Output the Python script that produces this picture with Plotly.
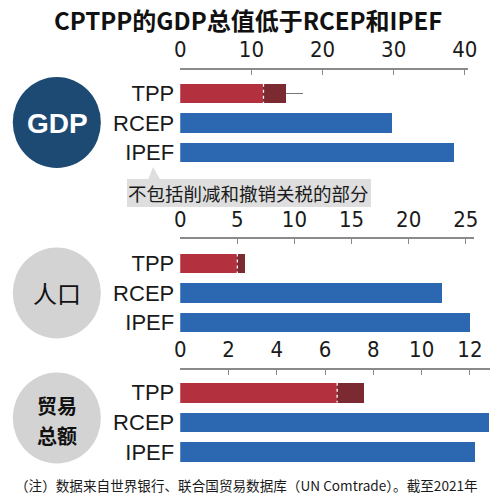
import plotly.graph_objects as go

# ---- data ----
categories = ["TPP", "RCEP", "IPEF"]
group_labels = ["GDP", "人口", ["贸易", "总额"]]

gdp_values = [11.7, 29.7, 38.5]      # TPP part excluding tariff cut items, RCEP, IPEF
gdp_tpp_extra = 3.2
gdp_tpp_whisker = 2.4
gdp_ticks = [0, 10, 20, 30, 40]

pop_values = [5.0, 22.9, 25.4]
pop_tpp_extra = 0.7
pop_ticks = [0, 5, 10, 15, 20, 25]

trade_values = [6.5, 12.8, 12.2]
trade_tpp_extra = 1.1
trade_ticks = [0, 2, 4, 6, 8, 10, 12]

title_text = "CPTPP的GDP总值低于RCEP和IPEF"
note_box_text = "不包括削减和撤销关税的部分"
footnote_text = "（注）数据来自世界银行、联合国贸易数据库（UN Comtrade）。截至2021年"

# ---- style ----
RED = "#b3303f"
DARK_RED = "#7b2a31"
BLUE = "#2b68b1"
NAVY = "#1d4a72"
GRAY_CIRCLE = "#d3d3d3"
AXIS = "#8a8a8a"
W = H = 500

CJK = "Noto Sans CJK SC"
NARROW = "Liberation Sans Narrow, DejaVu Sans Condensed, Liberation Sans, sans-serif"
SANS = "Liberation Sans, Arial, sans-serif"


def px(x):
    return x / W


def py(y):
    return 1 - y / H


panels = [
    dict(vals=gdp_values, extra=gdp_tpp_extra, whisker=gdp_tpp_whisker, ticks=gdp_ticks,
         xr=(180, 477), scale=7.35, yr=(70, 167.3), top=-0.8),
    dict(vals=pop_values, extra=pop_tpp_extra, whisker=None, ticks=pop_ticks,
         xr=(180, 483), scale=11.8, yr=(239.3, 337.3), top=-0.81),
    dict(vals=trade_values, extra=trade_tpp_extra, whisker=None, ticks=trade_ticks,
         xr=(180, 500), scale=24.94, yr=(370, 467.2), top=-0.76),
]

fig = go.Figure()
shapes = []
annotations = []

for i, p in enumerate(panels):
    sfx = "" if i == 0 else str(i + 1)
    xa, ya = "x" + sfx, "y" + sfx
    fig.add_trace(go.Bar(
        x=p["vals"], y=categories, orientation="h", xaxis=xa, yaxis=ya,
        marker=dict(color=[RED, BLUE, BLUE], line=dict(width=0)),
        hoverinfo="skip",
    ))
    err = None
    if p["whisker"] is not None:
        err = dict(type="data", symmetric=False, array=[p["whisker"], 0, 0],
                   arrayminus=[0, 0, 0], color="#777777", thickness=1.2, width=0)
    fig.add_trace(go.Bar(
        x=[p["extra"], 0, 0], y=categories, orientation="h", xaxis=xa, yaxis=ya,
        marker=dict(color=[DARK_RED, DARK_RED, DARK_RED], line=dict(width=0)),
        error_x=err, hoverinfo="skip",
    ))
    # dashed divider inside TPP bar
    shapes.append(dict(type="line", xref=xa, yref=ya,
                       x0=p["vals"][0], x1=p["vals"][0], y0=-0.33, y1=0.33,
                       line=dict(color="white", width=1.3, dash="dot")))
    xmax = (p["xr"][1] - p["xr"][0]) / p["scale"]
    fig.layout["xaxis" + sfx] = dict(
        domain=[px(p["xr"][0]), px(p["xr"][1])], range=[0, xmax], anchor=ya,
        side="top", showline=True, linecolor=AXIS, linewidth=1.5,
        ticks="inside", ticklen=5, tickcolor=AXIS, tickwidth=1,
        tickvals=p["ticks"], showgrid=False, zeroline=False, ticklabelstandoff=2,
        tickfont=dict(family=NARROW, size=22, color="#1a1a1a"),
    )
    fig.layout["yaxis" + sfx] = dict(
        domain=[py(p["yr"][1]), py(p["yr"][0])], anchor=xa,
        type="category", categoryorder="array", categoryarray=categories,
        range=[2.5, p["top"]], showline=False, ticks="", showgrid=False,
        zeroline=False, ticklabelstandoff=5,
        tickfont=dict(family=SANS, size=22, color="#1a1a1a"),
    )

# circles with group names
circle_centers = [(52.5, 122.5), (52.5, 293), (52.5, 418)]
circle_colors = [NAVY, GRAY_CIRCLE, GRAY_CIRCLE]
r = 45.5
for (cx, cy), col in zip(circle_centers, circle_colors):
    shapes.append(dict(type="circle", xref="paper", yref="paper",
                       x0=px(cx - r), x1=px(cx + r), y0=py(cy + r), y1=py(cy - r),
                       fillcolor=col, line=dict(width=0), layer="below"))

annotations.append(dict(x=px(53), y=py(123), xref="paper", yref="paper",
                        text="<b>" + group_labels[0] + "</b>", showarrow=False,
                        font=dict(family=SANS, size=28, color="white"),
                        xanchor="center", yanchor="middle"))
annotations.append(dict(x=px(53), y=py(292), xref="paper", yref="paper",
                        text=group_labels[1], showarrow=False,
                        font=dict(family=CJK, size=24, color="#111111"),
                        xanchor="center", yanchor="middle"))
for line_text, ly in zip(group_labels[2], [405, 435]):
    annotations.append(dict(x=px(53), y=py(ly), xref="paper", yref="paper",
                            text="<b>" + line_text + "</b>", showarrow=False,
                            font=dict(family=CJK, size=20, color="#111111"),
                            xanchor="center", yanchor="middle"))

# callout box
shapes.append(dict(type="rect", xref="paper", yref="paper",
                   x0=px(125), x1=px(377), y0=py(207), y1=py(179),
                   fillcolor="#dedede", line=dict(width=0), layer="below"))
shapes.append(dict(type="path", xref="paper", yref="paper",
                   path=f"M {px(147)} {py(179)} L {px(152)} {py(167)} L {px(159)} {py(179)} Z",
                   fillcolor="#dedede", line=dict(width=0), layer="below"))
annotations.append(dict(x=px(251), y=py(193), xref="paper", yref="paper",
                        text=note_box_text, showarrow=False,
                        font=dict(family=CJK, size=18.5, color="#1a1a1a"),
                        xanchor="center", yanchor="middle"))

# title
annotations.append(dict(x=0.5, y=py(19), xref="paper", yref="paper",
                        text="<b>" + title_text + "</b>", showarrow=False,
                        font=dict(family=CJK, size=24, color="#111111"),
                        xanchor="center", yanchor="middle"))
# footnote
annotations.append(dict(x=px(7), y=py(485), xref="paper", yref="paper",
                        text=footnote_text, showarrow=False,
                        font=dict(family=CJK, size=13.6, color="#1a1a1a"),
                        xanchor="left", yanchor="middle"))

fig.update_layout(
    width=W, height=H, margin=dict(l=0, r=0, t=0, b=0),
    barmode="stack", bargap=0.34, showlegend=False,
    plot_bgcolor="white", paper_bgcolor="white",
    shapes=shapes, annotations=annotations,
)

fig.write_html("out.html", config={"displayModeBar": False},
               post_script="document.body.style.margin='0';document.body.style.overflow='hidden';")
